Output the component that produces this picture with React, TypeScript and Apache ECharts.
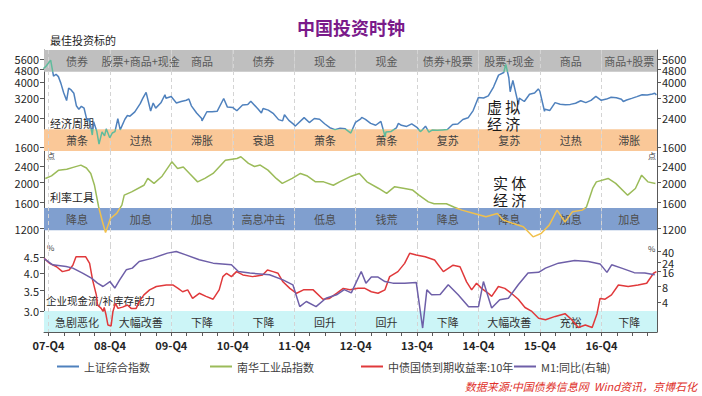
import React, { useEffect, useRef } from 'react';
import * as echarts from 'echarts';

const FONT = "'Noto Sans CJK SC', 'Noto Sans', sans-serif";

// x axis: decimal years; label "YY-Q4" sits at the start of the following year
const X_MIN = 2007.927;
const X_MAX = 2017.905;
const xTickValues = [2008, 2009, 2010, 2011, 2012, 2013, 2014, 2015, 2016, 2017];
const xTickLabels = ['07-Q4', '08-Q4', '09-Q4', '10-Q4', '11-Q4', '12-Q4', '13-Q4', '14-Q4', '15-Q4', '16-Q4'];

const sseTicks = [1600, 2400, 3200, 4000, 4800, 5600];
const nanhuaTicks = [1200, 1600, 2000, 2400];
const yieldTicks = [3.0, 3.5, 4.0, 4.5];
const m1Ticks = [4, 8, 16, 24, 40];

const bestAssets = ['债券', '股票+商品+现金', '商品', '债券', '现金', '现金', '债券+股票', '股票+现金', '商品', '商品+股票'];
const econCycle = ['萧条', '过热', '滞胀', '衰退', '萧条', '萧条', '复苏', '复苏', '过热', '滞胀'];
const rateTools = ['降息', '加息', '加息', '高息冲击', '低息', '钱荒', '降息', '降息', '加息', '加息'];
const cashFlow = ['急剧恶化', '大幅改善', '下降', '下降', '回升', '回升', '下降', '大幅改善', '充裕', '下降'];

const legendNames = ['上证综合指数', '南华工业品指数', '中债国债到期收益率:10年', 'M1:同比(右轴)'];

const sseData: [string, number][] = [
  ['2007-12-01', 4870], ['2007-12-15', 5008], ['2007-12-31', 5262], ['2008-01-14', 5497], ['2008-01-31', 4383],
  ['2008-02-15', 4497], ['2008-02-29', 4348], ['2008-03-15', 3950], ['2008-03-31', 3473], ['2008-04-18', 3094],
  ['2008-04-30', 3693], ['2008-05-15', 3600], ['2008-05-31', 3433], ['2008-06-15', 2875], ['2008-06-30', 2736],
  ['2008-07-15', 2850], ['2008-07-31', 2775], ['2008-08-18', 2319], ['2008-08-31', 2397], ['2008-09-18', 1895],
  ['2008-09-26', 2293], ['2008-10-15', 1990], ['2008-10-28', 1664], ['2008-11-15', 1980], ['2008-11-30', 1871],
  ['2008-12-10', 2070], ['2008-12-31', 1821], ['2009-01-15', 1950], ['2009-01-31', 1991], ['2009-02-17', 2390],
  ['2009-03-03', 2040], ['2009-03-31', 2373], ['2009-04-15', 2500], ['2009-04-30', 2478], ['2009-05-29', 2633],
  ['2009-06-30', 2959], ['2009-07-15', 3190], ['2009-08-04', 3478], ['2009-08-31', 2667], ['2009-09-15', 2990],
  ['2009-09-30', 2779], ['2009-10-31', 2996], ['2009-11-24', 3360], ['2009-11-30', 3195], ['2009-12-31', 3277],
  ['2010-01-31', 2989], ['2010-02-28', 3051], ['2010-03-31', 3109], ['2010-04-15', 3166], ['2010-04-30', 2871],
  ['2010-05-31', 2592], ['2010-06-30', 2398], ['2010-07-02', 2319], ['2010-07-31', 2638], ['2010-08-31', 2638],
  ['2010-09-30', 2655], ['2010-11-08', 3186], ['2010-11-30', 2820], ['2010-12-31', 2808], ['2011-01-25', 2677],
  ['2011-02-28', 2905], ['2011-03-31', 2928], ['2011-04-18', 3067], ['2011-05-31', 2743], ['2011-06-20', 2590],
  ['2011-06-30', 2762], ['2011-07-31', 2701], ['2011-08-31', 2568], ['2011-09-30', 2359], ['2011-10-24', 2317],
  ['2011-11-04', 2528], ['2011-11-30', 2333], ['2011-12-31', 2199], ['2012-01-06', 2148], ['2012-02-29', 2428],
  ['2012-03-31', 2263], ['2012-04-30', 2397], ['2012-05-31', 2373], ['2012-06-30', 2225], ['2012-07-31', 2103],
  ['2012-08-31', 2047], ['2012-09-30', 2086], ['2012-10-31', 2069], ['2012-12-03', 1949], ['2012-12-31', 2269],
  ['2013-01-31', 2385], ['2013-02-06', 2434], ['2013-02-28', 2366], ['2013-03-31', 2237], ['2013-04-30', 2178],
  ['2013-05-31', 2301], ['2013-06-25', 1849], ['2013-06-30', 1979], ['2013-07-31', 1994], ['2013-08-31', 2098],
  ['2013-09-12', 2237], ['2013-09-30', 2175], ['2013-10-31', 2141], ['2013-11-30', 2220], ['2013-12-31', 2116],
  ['2014-01-20', 1991], ['2014-01-31', 2033], ['2014-02-20', 2150], ['2014-03-12', 1974], ['2014-03-31', 2033],
  ['2014-04-30', 2026], ['2014-05-31', 2039], ['2014-06-30', 2048], ['2014-07-31', 2202], ['2014-08-31', 2217],
  ['2014-09-30', 2364], ['2014-10-31', 2420], ['2014-11-30', 2683], ['2014-12-31', 3235], ['2015-01-31', 3210],
  ['2015-02-28', 3310], ['2015-03-31', 3748], ['2015-04-30', 4441], ['2015-05-31', 4612], ['2015-06-12', 5178],
  ['2015-06-30', 4277], ['2015-07-08', 3507], ['2015-07-24', 4124], ['2015-08-26', 2927], ['2015-08-31', 3206],
  ['2015-09-30', 3053], ['2015-10-31', 3383], ['2015-11-30', 3445], ['2015-12-22', 3651], ['2015-12-31', 3539],
  ['2016-01-28', 2656], ['2016-01-31', 2738], ['2016-02-29', 2688], ['2016-03-31', 3004], ['2016-04-30', 2938],
  ['2016-05-31', 2917], ['2016-06-30', 2930], ['2016-07-31', 2979], ['2016-08-31', 3085], ['2016-09-30', 3005],
  ['2016-10-31', 3100], ['2016-11-29', 3283], ['2016-12-31', 3104], ['2017-01-31', 3159], ['2017-02-28', 3242],
  ['2017-03-31', 3223], ['2017-04-30', 3155], ['2017-05-11', 3052], ['2017-05-31', 3117], ['2017-06-30', 3192],
  ['2017-07-31', 3273], ['2017-08-31', 3361], ['2017-09-30', 3349], ['2017-10-31', 3393], ['2017-11-14', 3430],
  ['2017-11-24', 3353],
];

const nanhuaData: [string, number][] = [
  ['2007-12-13', 2094], ['2008-01-19', 2154], ['2008-03-02', 2296], ['2008-04-19', 2321], ['2008-06-06', 2381],
  ['2008-07-12', 2427], ['2008-08-14', 2352], ['2008-09-09', 2213], ['2008-10-01', 1941], ['2008-10-26', 1525],
  ['2008-11-18', 1291], ['2008-12-06', 1148], ['2009-01-04', 1342], ['2009-02-10', 1420], ['2009-03-13', 1556],
  ['2009-03-27', 1739], ['2009-05-10', 1803], ['2009-07-22', 1941], ['2009-08-14', 2094], ['2009-09-20', 1982],
  ['2009-11-07', 2147], ['2010-01-04', 2518], ['2010-02-07', 2338], ['2010-03-13', 2380], ['2010-04-19', 2213],
  ['2010-06-06', 2016], ['2010-07-19', 2094], ['2010-09-06', 2213], ['2010-11-18', 2566], ['2011-01-26', 2614],
  ['2011-02-18', 2663], ['2011-04-04', 2475], ['2011-05-10', 2390], ['2011-06-13', 2430], ['2011-07-29', 2296],
  ['2011-09-16', 2094], ['2011-10-22', 1982], ['2011-12-20', 2094], ['2012-02-07', 2213], ['2012-03-20', 2150],
  ['2012-05-07', 2016], ['2012-06-24', 2016], ['2012-08-21', 1941], ['2012-09-27', 2016], ['2012-12-06', 2147],
  ['2013-01-23', 2213], ['2013-03-09', 2016], ['2013-05-18', 1873], ['2013-07-04', 1774], ['2013-08-21', 1911],
  ['2013-10-19', 1873], ['2013-12-06', 1840], ['2014-01-12', 1739], ['2014-03-09', 1614], ['2014-04-12', 1580],
  ['2014-06-24', 1580], ['2014-08-07', 1525], ['2014-09-24', 1473], ['2014-12-06', 1420], ['2015-02-14', 1368],
  ['2015-04-23', 1420], ['2015-05-29', 1318], ['2015-07-26', 1270], ['2015-09-24', 1224], ['2015-11-21', 1095],
  ['2016-01-08', 1136], ['2016-02-25', 1247], ['2016-04-12', 1473], ['2016-05-29', 1291], ['2016-07-12', 1445],
  ['2016-09-09', 1473], ['2016-10-04', 1525], ['2016-11-10', 1873], ['2016-12-02', 2016], ['2017-02-10', 2094],
  ['2017-03-27', 1982], ['2017-06-06', 1739], ['2017-07-22', 1873], ['2017-08-28', 2171], ['2017-10-04', 2016],
  ['2017-11-18', 1982],
];

const yieldData: [string, number][] = [
  ['2007-12-06', 4.47], ['2008-01-08', 4.30], ['2008-02-18', 4.19], ['2008-03-24', 4.04], ['2008-05-03', 4.09],
  ['2008-05-25', 4.24], ['2008-06-13', 4.52], ['2008-07-12', 4.52], ['2008-08-10', 4.52], ['2008-09-02', 4.30],
  ['2008-09-20', 3.79], ['2008-10-12', 3.39], ['2008-10-19', 3.14], ['2008-11-10', 3.06], ['2008-11-21', 2.99],
  ['2008-11-28', 3.08], ['2008-12-09', 2.91], ['2008-12-20', 2.70], ['2009-01-08', 2.68], ['2009-01-19', 2.99],
  ['2009-02-03', 3.18], ['2009-02-18', 3.06], ['2009-03-17', 3.09], ['2009-04-15', 3.14], ['2009-05-07', 3.06],
  ['2009-06-06', 3.06], ['2009-06-24', 3.22], ['2009-07-22', 3.39], ['2009-08-25', 3.52], ['2009-10-04', 3.61],
  ['2009-12-02', 3.65], ['2010-01-12', 3.65], ['2010-02-10', 3.56], ['2010-03-09', 3.47], ['2010-04-08', 3.52],
  ['2010-05-07', 3.30], ['2010-06-16', 3.43], ['2010-07-26', 3.35], ['2010-09-06', 3.28], ['2010-10-12', 3.52],
  ['2010-11-03', 3.89], ['2010-11-25', 3.99], ['2010-12-24', 3.89], ['2011-01-23', 4.04], ['2011-03-02', 3.94],
  ['2011-04-29', 3.89], ['2011-06-27', 3.94], ['2011-07-26', 4.09], ['2011-08-28', 4.04], ['2011-09-27', 3.99],
  ['2011-10-26', 3.74], ['2011-12-06', 3.56], ['2012-01-15', 3.43], ['2012-02-25', 3.52], ['2012-04-23', 3.52],
  ['2012-06-20', 3.28], ['2012-07-29', 3.30], ['2012-09-09', 3.43], ['2012-10-19', 3.56], ['2012-11-28', 3.52],
  ['2013-01-15', 3.56], ['2013-02-25', 3.56], ['2013-04-04', 3.47], ['2013-05-14', 3.43], ['2013-06-24', 3.52],
  ['2013-07-22', 3.89], ['2013-09-09', 4.04], ['2013-10-19', 4.30], ['2013-11-18', 4.64], ['2013-12-27', 4.58],
  ['2014-02-18', 4.52], ['2014-04-15', 4.41], ['2014-06-06', 4.04], ['2014-08-03', 4.24], ['2014-09-13', 4.19],
  ['2014-10-22', 3.74], ['2014-11-21', 3.52], ['2014-12-20', 3.70], ['2015-01-19', 3.56], ['2015-02-28', 3.43],
  ['2015-03-20', 3.35], ['2015-04-29', 3.61], ['2015-06-06', 3.56], ['2015-07-15', 3.43], ['2015-08-25', 3.28],
  ['2015-10-04', 3.08], ['2015-11-14', 2.99], ['2015-12-24', 2.84], ['2016-02-03', 2.81], ['2016-04-01', 2.88],
  ['2016-05-29', 2.94], ['2016-07-08', 2.81], ['2016-08-17', 2.65], ['2016-09-27', 2.70], ['2016-11-07', 2.65],
  ['2016-12-06', 2.94], ['2016-12-24', 3.30], ['2017-01-23', 3.28], ['2017-03-02', 3.39], ['2017-04-12', 3.65],
  ['2017-06-09', 3.61], ['2017-08-07', 3.65], ['2017-09-27', 3.70], ['2017-11-07', 3.99], ['2017-11-24', 4.04],
];

const m1Data: [string, number][] = [
  ['2007-12-06', 29], ['2008-01-26', 21.8], ['2008-04-15', 20.1], ['2008-05-25', 18.7], ['2008-07-22', 14.9],
  ['2008-09-13', 11.8], ['2008-10-19', 9.4], ['2008-11-21', 8.05], ['2009-01-01', 10.1], ['2009-01-30', 7.5],
  ['2009-02-28', 10.9], ['2009-04-08', 17.3], ['2009-05-14', 18.7], ['2009-06-24', 25.3], ['2009-09-13', 29.6],
  ['2009-12-09', 37.2], ['2010-01-30', 40], ['2010-03-28', 34.4], ['2010-06-16', 27.4], ['2010-09-06', 23.5],
  ['2010-12-24', 21.8], ['2011-02-03', 16], ['2011-04-12', 14.9], ['2011-08-07', 13.8], ['2011-10-26', 10.9],
  ['2011-12-24', 8.7], ['2012-02-03', 3.2], ['2012-03-13', 4.05], ['2012-05-10', 3.2], ['2012-07-08', 4.7],
  ['2012-09-09', 5.5], ['2012-10-25', 7.0], ['2012-12-06', 6.0], ['2013-02-03', 16], ['2013-03-03', 9.4],
  ['2013-04-04', 12.4], ['2013-05-14', 12.4], ['2013-06-24', 10.1], ['2013-08-10', 9.4], ['2013-10-19', 9.4],
  ['2013-12-27', 9.7], ['2014-02-03', 1.2], ['2014-02-28', 6.9], ['2014-03-28', 5.5], ['2014-05-18', 5.6],
  ['2014-07-05', 8.7], ['2014-09-02', 5.5], ['2014-11-03', 3.2], ['2015-01-01', 3.2], ['2015-01-30', 10.1],
  ['2015-03-20', 3.0], ['2015-05-07', 4.4], ['2015-06-27', 4.7], ['2015-08-25', 8.7], ['2015-10-22', 14.9],
  ['2015-12-24', 15.4], ['2016-02-03', 18.7], ['2016-04-20', 23.5], ['2016-07-26', 26.5], ['2016-10-15', 25.3],
  ['2016-12-24', 22.7], ['2017-02-03', 15.4], ['2017-03-03', 21.8], ['2017-05-01', 18.7], ['2017-07-15', 15.2],
  ['2017-09-16', 14.9], ['2017-11-14', 13.8],
];

// band value ranges (in axis units)
const TOP_MIN = 1510, TOP_MAX = 6350, GREY_LOW = 4660, ORANGE_HIGH = 2060;
const MID_MIN = 1000, MID_MAX = 2840, BLUE_LOW = 1178, BLUE_HIGH = 1510;
const YLD_MIN = 2.56, YLD_MAX = 4.94, CYAN_HIGH = 3.0;
const M1_MIN = 1, M1_MAX = 54;

function toYear(d: string): number {
  const [y, m, day] = d.split('-').map(Number);
  const start = Date.UTC(y, 0, 1);
  const end = Date.UTC(y + 1, 0, 1);
  return y + (Date.UTC(y, m - 1, day) - start) / (end - start);
}
const toSeries = (arr: [string, number][]) => arr.map(([d, v]) => [toYear(d), v]);

function bandAreas(labels: string[], low: number, high: number, color: string, labelColor: string) {
  const edges = [X_MIN, ...xTickValues.slice(1), X_MAX];
  return labels.map((name, i) => [
    { name, xAxis: edges[i], yAxis: low, itemStyle: { color }, label: { color: labelColor } },
    { xAxis: edges[i + 1], yAxis: high },
  ]);
}

const quarterTicks: number[] = [];
for (let y = 2008; y <= 2017; y++) for (let q = 0; q < 4; q++) quarterTicks.push(y + q * 0.25);

const AX = '#595959';

function yAxisCfg(gridIndex: number, position: 'left' | 'right', min: number, max: number, ticks: number[], fmt: (v: number) => string) {
  return {
    type: 'log',
    gridIndex,
    position,
    min,
    max,
    axisLine: { show: true, lineStyle: { color: AX, width: 1 } },
    axisTick: { show: true, length: 4, lineStyle: { color: AX }, customValues: ticks },
    axisLabel: { show: true, customValues: ticks, formatter: (v: number) => fmt(v), fontSize: 11, color: '#262626', margin: 5, fontFamily: FONT },
    splitLine: { show: false },
  };
}

function helperX(gridIndex: number) {
  return {
    type: 'value',
    gridIndex,
    min: X_MIN,
    max: X_MAX,
    z: 1.5,
    axisLine: { show: false },
    axisTick: { show: false, customValues: xTickValues },
    axisLabel: { show: false },
    splitLine: { show: true, lineStyle: { color: '#d4d4d4', type: [4, 3], width: 1 } },
  };
}

const intFmt = (v: number) => String(Math.round(v));

export default function App() {
  const ref = useRef<HTMLDivElement>(null);
  useEffect(() => {
    if (!ref.current) return;
    const chart = echarts.init(ref.current, null, { renderer: 'svg' });
    const bandLabel = { show: true, position: 'inside', fontSize: 11, fontFamily: FONT };
    const option: any = {
      animation: false,
      backgroundColor: '#ffffff',
      textStyle: { fontFamily: FONT },
      title: {
        text: '中国投资时钟',
        left: 'center',
        top: 13,
        textStyle: { fontSize: 18, fontWeight: 'bold', color: '#7a1a8a', fontFamily: FONT },
      },
      legend: legendNames.map((n, i) => ({
        data: [n],
        left: [52, 205, 356, 509][i],
        top: 356,
        icon: 'rect',
        itemWidth: 22,
        itemHeight: 2,
        selectedMode: false,
        textStyle: { fontSize: 11, color: '#404040', fontFamily: FONT },
      })),
      grid: [
        { left: 44, right: 45, top: 50, height: 101 },
        { left: 44, right: 45, top: 151, height: 94 },
        { left: 44, right: 45, top: 245, height: 87 },
      ],
      xAxis: [
        helperX(0),
        helperX(1),
        {
          type: 'value',
          gridIndex: 2,
          min: X_MIN,
          max: X_MAX,
          axisLine: { show: true, lineStyle: { color: AX } },
          axisTick: { show: true, length: 4, lineStyle: { color: AX }, customValues: quarterTicks },
          axisLabel: {
            show: true,
            customValues: xTickValues,
            formatter: (v: number) => {
              const i = xTickValues.findIndex((t) => Math.abs(t - v) < 1e-6);
              return i >= 0 ? xTickLabels[i] : '';
            },
            fontSize: 11,
            fontWeight: 'bold',
            color: '#262626',
            margin: 7,
            fontFamily: FONT,
          },
          splitLine: { show: false },
        },
        helperX(2),
      ],
      yAxis: [
        yAxisCfg(0, 'left', TOP_MIN, TOP_MAX, sseTicks, intFmt),
        yAxisCfg(0, 'right', TOP_MIN, TOP_MAX, sseTicks, intFmt),
        yAxisCfg(1, 'left', MID_MIN, MID_MAX, nanhuaTicks, intFmt),
        yAxisCfg(1, 'right', MID_MIN, MID_MAX, nanhuaTicks, intFmt),
        yAxisCfg(2, 'left', YLD_MIN, YLD_MAX, yieldTicks, (v) => v.toFixed(1)),
        yAxisCfg(2, 'right', M1_MIN, M1_MAX, m1Ticks, intFmt),
      ],
      visualMap: [
        {
          type: 'piecewise', show: false, seriesIndex: 0, dimension: 1,
          pieces: [
            { lt: ORANGE_HIGH, color: '#5fbb9c' },
            { gte: ORANGE_HIGH, lte: GREY_LOW, color: '#4f81bd' },
            { gt: GREY_LOW, color: '#5fbb9c' },
          ],
        },
        {
          type: 'piecewise', show: false, seriesIndex: 1, dimension: 1,
          pieces: [
            { lt: BLUE_HIGH, color: '#f0c04c' },
            { gte: BLUE_HIGH, lte: MID_MAX, color: '#9bbb59' },
            { gt: MID_MAX, color: '#9bbb59' },
          ],
        },
      ],
      series: [
        {
          name: legendNames[0], type: 'line', xAxisIndex: 0, yAxisIndex: 0,
          data: toSeries(sseData), symbol: 'none', color: '#4f81bd',
          lineStyle: { width: 1.5 }, silent: true,
          markArea: {
            silent: true,
            label: bandLabel,
            data: [
              ...bandAreas(bestAssets, GREY_LOW, TOP_MAX, '#bfbfbf', '#595959'),
              ...bandAreas(econCycle, TOP_MIN, ORANGE_HIGH, '#fac898', '#404040'),
            ],
          },
        },
        {
          name: legendNames[1], type: 'line', xAxisIndex: 1, yAxisIndex: 2,
          data: toSeries(nanhuaData), symbol: 'none', color: '#9bbb59',
          lineStyle: { width: 1.5 }, silent: true,
          markArea: {
            silent: true,
            label: bandLabel,
            data: bandAreas(rateTools, BLUE_LOW, BLUE_HIGH, '#809fcf', '#4d4d4d'),
          },
        },
        {
          name: legendNames[2], type: 'line', xAxisIndex: 2, yAxisIndex: 4,
          data: toSeries(yieldData), symbol: 'none', color: '#e0393b',
          lineStyle: { width: 1.5 }, silent: true,
          markArea: {
            silent: true,
            label: bandLabel,
            data: bandAreas(cashFlow, YLD_MIN, CYAN_HIGH, '#ccf5f7', '#333333'),
          },
        },
        {
          name: legendNames[3], type: 'line', xAxisIndex: 2, yAxisIndex: 5,
          data: toSeries(m1Data), symbol: 'none', color: '#6e5fa8',
          lineStyle: { width: 1.5 }, silent: true,
        },
      ],
      graphic: [
        { type: 'text', x: 50, y: 40, style: { text: '最佳投资标的', fontSize: 11, fill: '#262626', fontFamily: FONT, textVerticalAlign: 'middle' } },
        { type: 'text', x: 50, y: 123, style: { text: '经济周期', fontSize: 11, fill: '#262626', fontFamily: FONT, textVerticalAlign: 'middle' } },
        { type: 'text', x: 50, y: 197, style: { text: '利率工具', fontSize: 11, fill: '#262626', fontFamily: FONT, textVerticalAlign: 'middle' } },
        { type: 'text', x: 46, y: 300, style: { text: '企业现金流/补库存能力', fontSize: 10.5, fill: '#262626', fontFamily: FONT, textVerticalAlign: 'middle' } },
        { type: 'text', x: 487, y: 98, z: 10, style: { text: '虚 拟\n经 济', fontSize: 15, lineHeight: 17, fill: '#1a1a1a', fontFamily: FONT } },
        { type: 'text', x: 493, y: 174, z: 10, style: { text: '实 体\n经 济', fontSize: 15, lineHeight: 17, fill: '#1a1a1a', fontFamily: FONT } },
        { type: 'text', x: 47, y: 54, style: { text: '点', fontSize: 8, fill: '#404040', fontFamily: FONT, textVerticalAlign: 'middle' } },
        { type: 'text', x: 648, y: 53, style: { text: '点', fontSize: 8, fill: '#404040', fontFamily: FONT, textVerticalAlign: 'middle' } },
        { type: 'text', x: 47, y: 155, style: { text: '点', fontSize: 8, fill: '#404040', fontFamily: FONT, textVerticalAlign: 'middle' } },
        { type: 'text', x: 648, y: 155, style: { text: '点', fontSize: 8, fill: '#404040', fontFamily: FONT, textVerticalAlign: 'middle' } },
        { type: 'text', x: 47, y: 247, style: { text: '%', fontSize: 8, fill: '#404040', fontFamily: FONT, textVerticalAlign: 'middle' } },
        { type: 'text', x: 648, y: 248, style: { text: '%', fontSize: 8, fill: '#404040', fontFamily: FONT, textVerticalAlign: 'middle' } },
        {
          type: 'text', x: 697, y: 386,
          style: {
            text: '数据来源:中国债券信息网  Wind资讯，京博石化', fontSize: 11, fontStyle: 'italic',
            fill: '#e0302a', fontFamily: FONT, textAlign: 'right', textVerticalAlign: 'middle',
          },
        },
      ],
    };
    chart.setOption(option);
    return () => chart.dispose();
  }, []);
  return <div ref={ref} style={{ position: 'fixed', left: 0, top: 0, width: 702, height: 396 }} />;
}
